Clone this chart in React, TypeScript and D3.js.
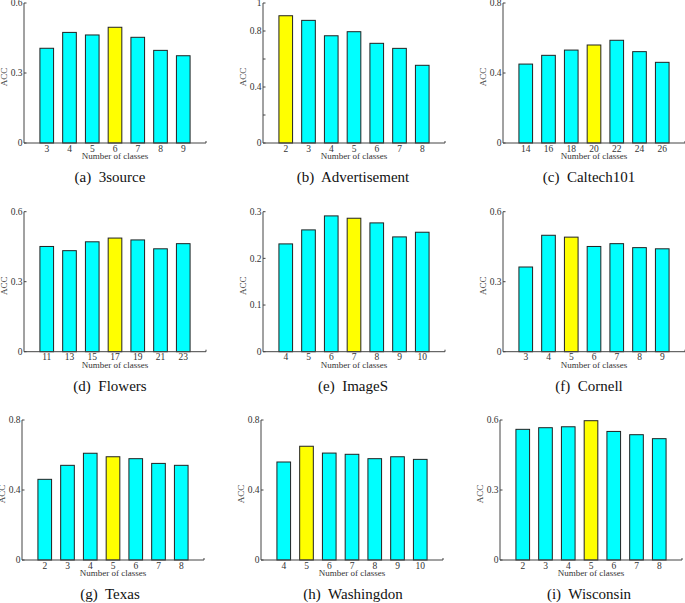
import * as d3 from 'd3';

// Data: ACC against number of classes for nine datasets
const names = ['3source', 'Advertisement', 'Caltech101', 'Flowers', 'ImageS', 'Cornell', 'Texas', 'Washingdon', 'Wisconsin'];
const letters = ['a', 'b', 'c', 'd', 'e', 'f', 'g', 'h', 'i'];

const classes3source = [3, 4, 5, 6, 7, 8, 9];
const acc3source = [0.406, 0.474, 0.463, 0.496, 0.453, 0.397, 0.374];

const classesAdvert = [2, 3, 4, 5, 6, 7, 8];
const accAdvert = [0.909, 0.876, 0.766, 0.795, 0.712, 0.676, 0.555];

const classesCaltech = [14, 16, 18, 20, 22, 24, 26];
const accCaltech = [0.451, 0.501, 0.531, 0.56, 0.587, 0.522, 0.461];

const classesFlowers = [11, 13, 15, 17, 19, 21, 23];
const accFlowers = [0.451, 0.433, 0.471, 0.487, 0.479, 0.441, 0.463];

const classesImageS = [4, 5, 6, 7, 8, 9, 10];
const accImageS = [0.231, 0.261, 0.291, 0.286, 0.276, 0.246, 0.256];

const classesCornell = [3, 4, 5, 6, 7, 8, 9];
const accCornell = [0.363, 0.499, 0.491, 0.451, 0.463, 0.446, 0.441];

const classesTexas = [2, 3, 4, 5, 6, 7, 8];
const accTexas = [0.461, 0.541, 0.61, 0.59, 0.579, 0.552, 0.541];

const classesWashingdon = [4, 5, 6, 7, 8, 9, 10];
const accWashingdon = [0.56, 0.65, 0.611, 0.604, 0.579, 0.59, 0.575];

const classesWisconsin = [2, 3, 4, 5, 6, 7, 8];
const accWisconsin = [0.56, 0.567, 0.571, 0.597, 0.551, 0.537, 0.52];

const allClasses = [classes3source, classesAdvert, classesCaltech, classesFlowers, classesImageS, classesCornell, classesTexas, classesWashingdon, classesWisconsin];
const allAcc = [acc3source, accAdvert, accCaltech, accFlowers, accImageS, accCornell, accTexas, accWashingdon, accWisconsin];
// highlighted (yellow) bar: the chosen number of classes
const chosenClasses = [6, 2, 20, 17, 7, 5, 5, 5, 5];

const yMax = [0.6, 1, 0.8, 0.6, 0.3, 0.6, 0.8, 0.8, 0.6];
const yTickLabels = [
  [0, 0.3, 0.6],
  [0, 0.4, 0.8, 1],
  [0, 0.4, 0.8],
  [0, 0.3, 0.6],
  [0, 0.1, 0.2, 0.3],
  [0, 0.3, 0.6],
  [0, 0.4, 0.8],
  [0, 0.4, 0.8],
  [0, 0.3, 0.6],
];
const yMinorTicks = [[], [0.2, 0.6], [], [], [], [], [], [], []];

// layout
const W = 685;
const H = 603;
const axisX = [
  [24, 263, 503],
  [24, 263, 503],
  [22, 261, 500],
];
const rowTop = [3, 211.7, 420];
const plotW = 182;
const plotH = 140;
const titleX = [110, 353, 589];
const serif = '"Liberation Serif", "Times New Roman", serif';
const axisColor = '#444';

function Panel({ idx }: { idx: number }) {
  const row = Math.floor(idx / 3);
  const col = idx % 3;
  const x0 = axisX[row][col];
  const top = rowTop[row];
  const base = top + plotH;
  const cls = allClasses[idx];
  const acc = allAcc[idx];

  const x = d3.scaleLinear().domain([-1, 7]).range([x0, x0 + plotW]);
  const y = d3.scaleLinear().domain([0, yMax[idx]]).range([base, top]);
  const bw = x(0.6) - x(0);
  const fmt = (v: number) => String(+v.toFixed(2));

  return (
    <g>
      {acc.map((v, i) => (
        <rect
          key={i}
          x={x(i) - bw / 2}
          y={y(v)}
          width={bw}
          height={y(0) - y(v)}
          fill={cls[i] === chosenClasses[idx] ? '#ffff00' : '#00ffff'}
          stroke="#222"
          strokeWidth={1}
        />
      ))}
      {/* axes */}
      <line x1={x0} x2={x0} y1={top} y2={base} stroke={axisColor} strokeWidth={1} />
      <line x1={x0} x2={x0 + plotW} y1={base} y2={base} stroke={axisColor} strokeWidth={1} />
      <line x1={x0 + plotW} x2={x0 + plotW} y1={base} y2={base - 2} stroke={axisColor} strokeWidth={1} />
      {yTickLabels[idx].map((t) => (
        <g key={t}>
          <line x1={x0} x2={x0 + 2.5} y1={y(t)} y2={y(t)} stroke={axisColor} strokeWidth={1} />
          <text
            x={x0 - 1.5}
            y={y(t)}
            dy="0.35em"
            textAnchor="end"
            fontSize={9.5}
            fill="#333"
            fontFamily={serif}
          >
            {fmt(t)}
          </text>
        </g>
      ))}
      {yMinorTicks[idx].map((t) => (
        <line key={t} x1={x0} x2={x0 + 2.5} y1={y(t)} y2={y(t)} stroke={axisColor} strokeWidth={1} />
      ))}
      {cls.map((c, i) => (
        <text
          key={c}
          x={x(i)}
          y={base + 8.5}
          textAnchor="middle"
          fontSize={9.5}
          fill="#333"
          fontFamily={serif}
        >
          {c}
        </text>
      ))}
      <text
        x={(x(0) + x(6)) / 2}
        y={base + 15.8}
        textAnchor="middle"
        fontSize={9}
        fill="#333"
        fontFamily={serif}
      >
        Number of classes
      </text>
      <text
        transform={`translate(${x0 - 17},${top + plotH / 2 + 4}) rotate(-90)`}
        textAnchor="middle"
        fontSize={9}
        fill="#333"
        fontFamily={serif}
      >
        ACC
      </text>
      <text
        x={titleX[col]}
        y={top + 179}
        textAnchor="middle"
        fontSize={15}
        fill="#111"
        fontFamily={serif}
        style={{ whiteSpace: 'pre' }}
      >
        {`(${letters[idx]})  ${names[idx]}`}
      </text>
    </g>
  );
}

export default function App() {
  return (
    <svg
      width={W}
      height={H}
      viewBox={`0 0 ${W} ${H}`}
      style={{ position: 'absolute', left: 0, top: 0, background: '#fff' }}
    >
      <rect width={W} height={H} fill="#fff" />
      {names.map((_, i) => (
        <Panel key={i} idx={i} />
      ))}
    </svg>
  );
}
